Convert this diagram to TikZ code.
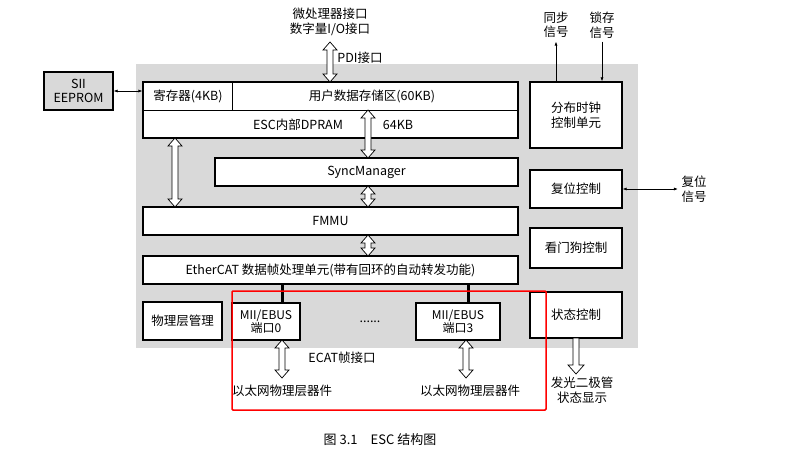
\documentclass[tikz,border=0pt]{standalone}
\usepackage{fontspec}
\setmainfont{Noto Sans CJK SC}
\usetikzlibrary{arrows.meta,calc}
\newcommand\harrow[3]{% x, ytop, ybottom : hollow double-headed vertical arrow
  \draw[line width=0.7pt,fill=white] (#1,#2) -- ++(7,8) -- ++(-4,0) -- ($(#1+3,#3-8)$) -- ++(4,0) -- (#1,#3) -- ++(-7,-8) -- ++(4,0) -- ($(#1-3,#2+8)$) -- ++(-4,0) -- cycle;}
\newcommand\harrowone[3]{% single head at bottom
  \draw[line width=0.7pt,fill=white] (#1-3,#2) -- ($(#1-3,#3-9)$) -- ++(-5,0) -- (#1,#3) -- ++(8,-9) -- ++(-5,0) -- (#1+3,#2) -- cycle;}
\begin{document}
\begin{tikzpicture}[x=1pt,y=-1pt,font=\fontsize{12.5}{14.5}\selectfont,
  blk/.style={draw,line width=1.2pt,fill=white,inner sep=0pt},
  thin/.style={line width=0.7pt}]
\useasboundingbox (0,0) rectangle (797,457);
\fill[gray!30] (136,64) rectangle (638,348);
\node[blk,fill=gray!30,minimum width=69pt,minimum height=38pt,align=center] (sii) at (78.5,91) {SII\\EEPROM};
\node[blk,minimum width=375pt,minimum height=56pt] (mem) at (330.5,110) {};
\draw[line width=0.8pt] (143,110) -- (518,110);
\draw[line width=0.8pt] (232,82) -- (232,110);
\node (reg) at (188,96) {寄存器(4KB)};
\node (user) at (372,96) {用户数据存储区(60KB)};
\node (dpram) at (298,125) {ESC内部DPRAM};
\node (kb) at (398,125) {64KB};
\node[blk,minimum width=303pt,minimum height=28pt] (sync) at (366.5,172) {SyncManager};
\node[blk,minimum width=375pt,minimum height=28pt] (fmmu) at (330.5,221) {FMMU};
\node[blk,minimum width=375pt,minimum height=28pt] (ecat) at (330.5,270) {EtherCAT 数据帧处理单元(带有回环的自动转发功能)};
\node[blk,minimum width=79pt,minimum height=38pt] (phy) at (182.5,321) {物理层管理};
\node[blk,minimum width=68pt,minimum height=37pt,align=center,font=\fontsize{12}{13}\selectfont] (p0) at (266,321.5) {MII/EBUS\\端口0};
\node[blk,minimum width=84pt,minimum height=37pt,align=center,font=\fontsize{12}{13}\selectfont] (p3) at (458,321.5) {MII/EBUS\\端口3};
\node (dots) at (370,322) {......};
\node[blk,minimum width=92pt,minimum height=66pt,align=center] (dc) at (576,115) {分布时钟\\控制单元};
\node[blk,minimum width=92pt,minimum height=38pt] (rst) at (576,189) {复位控制};
\node[blk,minimum width=92pt,minimum height=40pt] (wd) at (576,248) {看门狗控制};
\node[blk,minimum width=92pt,minimum height=46pt] (st) at (576,315) {状态控制};
\node[align=center] (mcu) at (330,22) {微处理器接口\\数字量I/O接口};
\node (pdi) at (360,58) {PDI接口};
\node[align=center] (syn) at (556,25) {同步\\信号};
\node[align=center] (latch) at (602,25) {锁存\\信号};
\node[align=center] (rsts) at (694,189) {复位\\信号};
\node[align=center] (led) at (582,390) {发光二极管\\状态显示};
\node (ecatif) at (342,358) {ECAT帧接口};
\node (eth0) at (282,391) {以太网物理层器件};
\node (eth3) at (470,391) {以太网物理层器件};
\harrow{330}{42}{82}
\harrow{175}{138}{207}
\harrow{368}{110}{158}
\harrow{368}{186}{207}
\harrow{368}{235}{256}
\draw[line width=3pt] (ecat.south -| 282,0) -- (p0.north -| 282,0);
\draw[line width=3pt] (ecat.south -| 468,0) -- (p3.north -| 468,0);
\harrow{282}{340}{378}
\harrow{466}{340}{378}
\harrowone{576}{338}{374}
\draw[thin,{Latex[length=4pt]}-{Latex[length=4pt]}] (sii.east) -- (mem.west |- sii.east);
\draw[thin,-{Latex[length=4pt]}] (dc.north -| syn) -- (syn.south);
\draw[thin,-{Latex[length=4pt]}] (latch.south) -- (dc.north -| latch);
\draw[thin,{Latex[length=4pt]}-{Latex[length=4pt]}] (rst.east) -- (rsts.west);
\draw[red,line width=1.5pt,rounded corners=1pt] (232,291) rectangle (546,410);
\node[font=\fontsize{13}{15}\selectfont] (cap) at (380,440) {图 3.1\quad ESC 结构图};
\end{tikzpicture}
\end{document}
